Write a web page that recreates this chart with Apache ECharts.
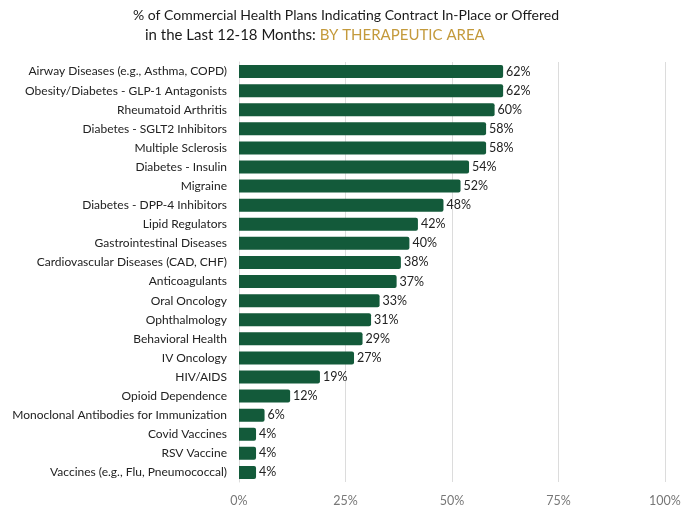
<!DOCTYPE html>
<html>
<head>
<meta charset="utf-8">
<script src="https://cdn.jsdelivr.net/npm/echarts@6/dist/echarts.min.js"></script>
<style>
  html, body { margin: 0; padding: 0; background: #fff; }
  #chart { width: 692px; height: 512px; }
</style>
</head>
<body>
<div id="chart"></div>
<script>
var categories = [
    'Airway Diseases (e.g., Asthma, COPD)',
    'Obesity/Diabetes - GLP-1 Antagonists',
    'Rheumatoid Arthritis',
    'Diabetes - SGLT2 Inhibitors',
    'Multiple Sclerosis',
    'Diabetes - Insulin',
    'Migraine',
    'Diabetes - DPP-4 Inhibitors',
    'Lipid Regulators',
    'Gastrointestinal Diseases',
    'Cardiovascular Diseases (CAD, CHF)',
    'Anticoagulants',
    'Oral Oncology',
    'Ophthalmology',
    'Behavioral Health',
    'IV Oncology',
    'HIV/AIDS',
    'Opioid Dependence',
    'Monoclonal Antibodies for Immunization',
    'Covid Vaccines',
    'RSV Vaccine',
    'Vaccines (e.g., Flu, Pneumococcal)'
];
var values = [62, 62, 60, 58, 58, 54, 52, 48, 42, 40, 38, 37, 33, 31, 29, 27, 19, 12, 6, 4, 4, 4];
var xTicks = [0, 25, 50, 75, 100];

var font = 'Lato, "Noto Sans", sans-serif';
var myChart = echarts.init(document.getElementById('chart'));

var option = {
    animation: false,
    title: [
        {
            text: '% of Commercial Health Plans Indicating Contract In-Place or Offered',
            left: 'center',
            top: 3,
            textStyle: { fontFamily: font, fontSize: 14, fontWeight: 'normal', color: '#1a1a1a' }
        },
        {
            text: '{a|in the Last 12-18 Months: }{b|BY THERAPEUTIC AREA}',
            left: 140,
            top: 23,
            textStyle: {
                fontWeight: 'normal',
                rich: {
                    a: { fontFamily: font, fontSize: 15, fontWeight: 'normal', color: '#1a1a1a' },
                    b: { fontFamily: font, fontSize: 15, fontWeight: 'normal', color: '#c49a3c' }
                }
            }
        }
    ],
    grid: {
        left: 239,
        right: 27,
        top: 62,
        bottom: 30,
        containLabel: false
    },
    xAxis: {
        type: 'value',
        min: 0,
        max: 100,
        interval: 25,
        axisLine: { show: false },
        axisTick: { show: false },
        splitLine: { lineStyle: { color: '#dcdcdc', width: 1 } },
        axisLabel: {
            fontFamily: font,
            fontSize: 12.5,
            color: '#777',
            margin: 12,
            formatter: function (v) { return xTicks.indexOf(v) >= 0 ? v + '%' : ''; }
        }
    },
    yAxis: {
        type: 'category',
        data: categories,
        inverse: true,
        axisLine: { show: true, lineStyle: { color: '#dcdcdc' } },
        axisTick: { show: false },
        axisLabel: { fontFamily: font, fontSize: 12, color: '#222', margin: 12 }
    },
    series: [
        {
            type: 'bar',
            data: values,
            barWidth: 13,
            itemStyle: { color: '#135a3a', borderRadius: [0, 2, 2, 0] },
            label: {
                show: true,
                position: 'right',
                distance: 3,
                fontFamily: font,
                fontSize: 12.5,
                color: '#222',
                formatter: '{c}%'
            }
        }
    ]
};

myChart.setOption(option);
</script>
</body>
</html>
